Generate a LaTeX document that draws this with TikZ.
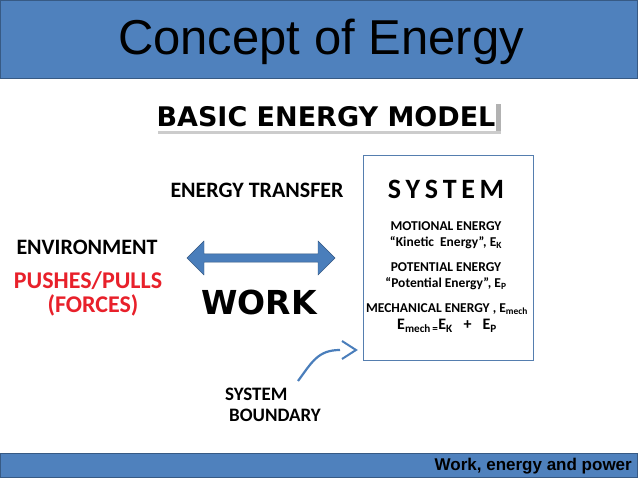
\documentclass[tikz,border=0pt]{standalone}
\usepackage{fontspec}
\setmainfont{Carlito}
\newfontfamily\arialfont{Liberation Sans}
\newfontfamily\dejafont{DejaVu Sans}
\usetikzlibrary{shapes.arrows}
\definecolor{bandblue}{HTML}{4F81BD}
\definecolor{arrowblue}{HTML}{4A7EBB}
\definecolor{pushred}{HTML}{E8202A}
\begin{document}
\begin{tikzpicture}[x=1pt,y=-1pt,
    band/.style={fill=bandblue,draw=bandblue!70!black,line width=0.8pt},
    label/.style={font=\bfseries\fontsize{21}{24}\selectfont,inner sep=0pt},
    boxtext/.style={font=\bfseries\fontsize{13.5}{16}\selectfont,inner sep=0pt,align=center}]
    \useasboundingbox (0,0) rectangle (638,478);
    \fill[white] (0,0) rectangle (638,478);
    % bands
    \draw[band] (0.5,0.5) rectangle (637.5,78);
    \draw[band] (0.5,453) rectangle (637.5,477.5);
    \node (title) at (321,42) {\arialfont\fontsize{49}{54}\selectfont Concept of Energy};
    \node[anchor=east,inner sep=0pt] (footer) at (632,466)
        {\arialfont\bfseries\fontsize{17}{20}\selectfont Work, energy and power};
    % heading with shadow
    \fill[gray!60] (496,104) rectangle (501,134);
    \fill[gray!40] (158,131) rectangle (501,134);
    \node[inner sep=0pt] (model) at (326,117)
        {\dejafont\bfseries\fontsize{27}{30}\selectfont BASIC ENERGY MODEL};
    % system box
    \draw[draw=arrowblue!80!gray,line width=0.9pt] (363,155) rectangle (533,360);
    \node[inner sep=0pt] (system) at (446,189)
        {\bfseries\fontsize{28}{30}\selectfont S\,Y\,S\,T\,E\,M};
    \node[boxtext] (motion) at (446,235) {MOTIONAL ENERGY\\``Kinetic~ Energy'', E\textsubscript{K}};
    \node[boxtext] (potential) at (446,276) {POTENTIAL ENERGY\\``Potential Energy'', E\textsubscript{P}};
    \node[boxtext] (mech) at (447,318) {MECHANICAL ENERGY , E\textsubscript{mech}\\[1pt]
        {\fontsize{16}{18}\selectfont E\textsubscript{mech\,=}E\textsubscript{K} ~~+~~ E\textsubscript{P}}};
    % left side
    \node[label,font=\bfseries\fontsize{22}{24}\selectfont] (transfer) at (257,190) {ENERGY TRANSFER};
    \node[label,font=\bfseries\fontsize{22}{24}\selectfont] (env) at (87,247) {ENVIRONMENT};
    \node[label,font=\bfseries\fontsize{24}{24}\selectfont,text=pushred,align=center] (push) at (88,294)
        {PUSHES/PULLS\\\hspace*{10pt}(FORCES)};
    \node[double arrow,fill=arrowblue,draw=arrowblue!70!black,minimum height=148pt,
        minimum width=34pt,double arrow head extend=10pt,inner sep=3pt] (transferarrow) at (261,258) {};
    \node[inner sep=0pt] (work) at (259,302) {\dejafont\bfseries\fontsize{33}{36}\selectfont WORK};
    \node[label,align=left,font=\bfseries\fontsize{19}{21}\selectfont] (boundary) at (273,405)
        {SYSTEM\\\hspace*{4pt}BOUNDARY};
    \coordinate (bstart) at (298,381);
    \coordinate (bend) at (356,350);
    \draw[arrowblue,line width=2.2pt] (bstart) .. controls (312,362) and (318,350) .. (340,350);
    \draw[arrowblue,line width=2pt] (342,341) -- (bend) -- (342,359);
\end{tikzpicture}
\end{document}
